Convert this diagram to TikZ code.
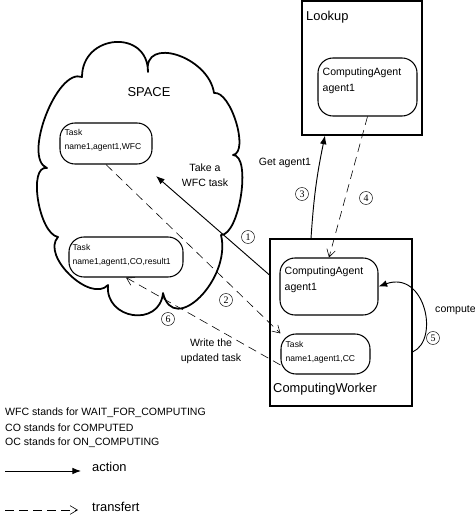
\documentclass[tikz,border=0pt]{standalone}
\usepackage{fontspec}
\setmainfont{Liberation Sans}
\newfontfamily\numfont{Liberation Serif}
\usetikzlibrary{arrows.meta,positioning,calc}
\tikzset{
framebox/.style={draw, line width=0.9pt, inner sep=0pt},
agentbox/.style={draw, line width=0.9pt, rounded corners=0.45cm, inner sep=0pt},
agenttext/.style={anchor=north west, inner sep=0pt, align=left, font=\fontsize{9}{13.5}\selectfont},
tasktext/.style={anchor=north west, inner sep=0pt, align=left, font=\fontsize{7.3}{11.5}\selectfont},
bigname/.style={inner sep=0pt, font=\fontsize{11}{13}\selectfont},
steplabel/.style={align=center, inner sep=0pt, font=\fontsize{9}{13}\selectfont},
legendtext/.style={anchor=west, inner sep=0pt, font=\fontsize{9}{13}\selectfont},
numcirc/.style={circle, draw, line width=0.4pt, inner sep=0pt, minimum size=0.39cm, font=\numfont\fontsize{8.5}{9}\selectfont},
action/.style={-{Latex[length=2.6mm, width=2mm]}, line width=0.8pt},
transfer/.style={-{Straight Barb[length=2.2mm, width=2.6mm]}, line width=0.5pt, dash pattern=on 2.6mm off 1.6mm},
cloudline/.style={line width=1.5pt, line join=round}
}
\begin{document}
\begin{tikzpicture}[x=0.03cm, y=0.03cm]
  \useasboundingbox (0,0) rectangle (474,-517);
  % the space, drawn as a cloud
  \draw[cloudline] (82,-77)
    .. controls (82,-33.7) and (148,-28.7) .. (148,-72)
    .. controls (142.7,-35.3) and (208.7,-56.3) .. (214,-93)
    .. controls (230.7,-90.3) and (249.7,-152.3) .. (233,-155)
    .. controls (251.7,-155) and (239.7,-235) .. (221,-235)
    .. controls (231.7,-279) and (173.7,-337) .. (163,-293)
    .. controls (159.7,-327.7) and (104.7,-319.7) .. (108,-285)
    .. controls (90.7,-303.7) and (40.7,-255.7) .. (58,-237)
    .. controls (38.7,-233.7) and (27.7,-164.7) .. (47,-168)
    .. controls (22.1,-158.4) and (57.1,-67.4) .. (82,-77) -- cycle;
  \node[bigname] (space) at (149,-92) {SPACE};
  \node[agentbox, minimum width=2.76cm, minimum height=1.23cm] (t1) at (106,-143.5) {};
  \node[tasktext] (t1text) at ([xshift=0.15cm, yshift=-0.21cm]t1.north west) {Task\\name1,agent1,WFC};
  \node[agentbox, minimum width=3.42cm, minimum height=1.2cm] (t2) at (126,-257) {};
  \node[tasktext] (t2text) at ([xshift=0.12cm, yshift=-0.24cm]t2.north west) {Task\\name1,agent1,CO,result1};

  % lookup
  \node[framebox, minimum width=3.6cm, minimum height=4.02cm] (lookup) at (362,-68) {};
  \node[bigname, anchor=west] (lookupname) at (306,-17) {Lookup};
  \node[agentbox, minimum width=2.97cm, minimum height=1.74cm] (la) at (367.5,-87) {};
  \node[agenttext] (latext) at ([xshift=0.15cm, yshift=-0.3cm]la.north west) {ComputingAgent\\agent1};

  % worker
  \node[framebox, minimum width=4.26cm, minimum height=5.01cm] (cw) at (341,-322.5) {};
  \node[bigname, anchor=west] (cwname) at (273,-389) {ComputingWorker};
  \node[agentbox, minimum width=2.94cm, minimum height=1.71cm] (ca) at (329,-286.5) {};
  \node[agenttext] (catext) at ([xshift=0.15cm, yshift=-0.27cm]ca.north west) {ComputingAgent\\agent1};
  \node[agentbox, minimum width=2.67cm, minimum height=1.2cm] (ct) at (325.5,-354) {};
  \node[tasktext] (cttext) at ([xshift=0.15cm, yshift=-0.24cm]ct.north west) {Task\\name1,agent1,CC};

  % steps
  \coordinate (takeend) at (156,-176);
  \draw[action] ([yshift=1.425cm]cw.west) -- (takeend);
  \draw[transfer] (t1.south) -- (ct.north west);
  \draw[action] ([xshift=-0.9cm]cw.north) to[bend left=4] ([xshift=-1.11cm]lookup.south);
  \draw[transfer] (la.south) -- (ca.north);
  \draw[action] ([yshift=-0.885cm]cw.east) .. controls (440,-340) and (425,-270) .. (ca.east);
  \draw[transfer] ([yshift=-0.33cm]ct.west) -- (t2.south);

  \node[steplabel] (takelbl) at (205,-175) {Take a\\WFC task};
  \node[numcirc] (n1) at (248,-237) {1};
  \node[numcirc] (n2) at (226,-300) {2};
  \node[steplabel] (getlbl) at (285,-163) {Get agent1};
  \node[numcirc] (n3) at (302,-194) {3};
  \node[numcirc] (n4) at (366,-198) {4};
  \node[numcirc] (n5) at (433,-338) {5};
  \node[steplabel, anchor=west] (complbl) at (435,-310) {compute};
  \node[numcirc] (n6) at (168,-319) {6};
  \node[steplabel] (writelbl) at (211,-351) {Write the\\updated task};

  % legend
  \node[legendtext] (leg1) at (5,-413) {WFC stands for WAIT\_FOR\_COMPUTING};
  \node[legendtext] (leg2) at (5,-428) {CO stands for COMPUTED};
  \node[legendtext] (leg3) at (5,-443) {OC stands for ON\_COMPUTING};
  \coordinate (actA) at (5,-471);
  \coordinate (actB) at (81,-471);
  \draw[action] (actA) -- (actB);
  \node[legendtext, font=\fontsize{11}{13}\selectfont] (actlbl) at (92,-467) {action};
  \coordinate (trA) at (5,-510);
  \coordinate (trB) at (78,-510);
  \draw[transfer] (trA) -- (trB);
  \node[legendtext, font=\fontsize{11}{13}\selectfont] (trlbl) at (92,-507) {transfert};
\end{tikzpicture}
\end{document}
